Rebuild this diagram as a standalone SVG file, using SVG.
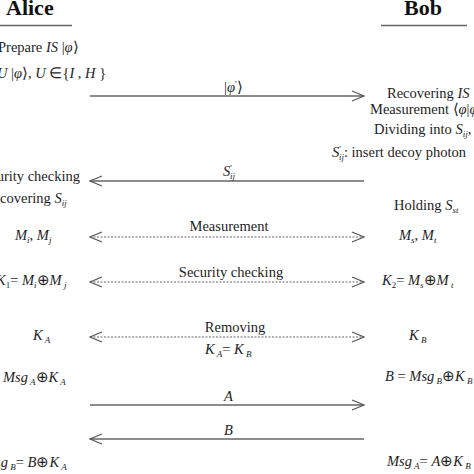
<svg xmlns="http://www.w3.org/2000/svg" width="474" height="474" viewBox="0 0 474 474">
<defs>
<style>
.t{font-family:"Liberation Serif","Times New Roman",serif;font-size:14.5px;fill:#1e1e1e}
.h{font-family:"Liberation Serif","Times New Roman",serif;font-size:22px;font-weight:bold;fill:#111}
.i{font-style:italic}
.s{font-size:9px}
.ln{stroke:#666;stroke-width:1.3;fill:none}
.dl{stroke:#666;stroke-width:1;stroke-dasharray:2,1.5;fill:none}
</style>
<marker id="ah" viewBox="0 0 14 12" refX="13" refY="6" markerWidth="14" markerHeight="12" markerUnits="userSpaceOnUse" orient="auto-start-reverse">
<path d="M1,1 L13,6 L1,11" fill="none" stroke="#555" stroke-width="1.2"/>
</marker>
</defs>
<rect width="474" height="474" fill="#fff"/>

<g id="alice">
<text class="h" x="6" y="15">Alice</text>
<line class="ln" x1="0" y1="25.5" x2="72" y2="25.5"/>
</g>
<g id="bob">
<text class="h" x="404" y="15">Bob</text>
<line class="ln" x1="381" y1="25.5" x2="467" y2="25.5"/>
</g>

<g id="alice-steps">
<text class="t" x="-2" y="52">Prepare <tspan class="i">IS</tspan> |<tspan class="i">φ</tspan>⟩</text>
<text class="t" x="-3" y="78"><tspan class="i">U</tspan> |<tspan class="i">φ</tspan>⟩, <tspan class="i">U</tspan> ∈{<tspan class="i">I</tspan> , <tspan class="i">H</tspan> }</text>
<text class="t" x="80" y="181" text-anchor="end">Security checking</text>
<text class="t" x="-16" y="203">Recovering <tspan class="i">S</tspan><tspan class="s i" dy="3">ij</tspan></text>
<text class="t" x="15" y="240"><tspan class="i">M</tspan><tspan class="s i" dy="3">i</tspan><tspan dy="-3">, </tspan><tspan class="i">M</tspan><tspan class="s i" dy="3">j</tspan></text>
<text class="t" x="-4" y="285"><tspan class="i">K</tspan><tspan class="s" dy="3">1</tspan><tspan dy="-3">= </tspan><tspan class="i">M</tspan><tspan class="s i" dy="3">i</tspan><tspan dy="-3">⊕</tspan><tspan class="i">M</tspan><tspan class="s i" dy="3"> j</tspan></text>
<text class="t" x="33" y="340"><tspan class="i">K</tspan><tspan class="s i" dy="3"> A</tspan></text>
<text class="t" x="3" y="382"><tspan class="i">Msg</tspan><tspan class="s i" dy="3"> A</tspan><tspan dy="-3">⊕</tspan><tspan class="i">K</tspan><tspan class="s i" dy="3"> A</tspan></text>
<text class="t" x="-17" y="467"><tspan class="i">Msg</tspan><tspan class="s i" dy="3"> B</tspan><tspan dy="-3">= </tspan><tspan class="i">B</tspan>⊕<tspan class="i">K</tspan><tspan class="s i" dy="3"> A</tspan></text>
</g>

<g id="bob-steps">
<text class="t" x="387" y="98">Recovering <tspan class="i">IS</tspan></text>
<text class="t" x="370" y="114">Measurement ⟨<tspan class="i">φ</tspan>|<tspan class="i">φ</tspan><tspan class="s" dy="-5">'</tspan><tspan dy="5">⟩</tspan></text>
<text class="t" x="374" y="134">Dividing into <tspan class="i">S</tspan><tspan class="s i" dy="3">ij</tspan><tspan dy="-3">,</tspan></text>
<text class="t" x="332" y="157"><tspan class="i">S</tspan><tspan class="s" dy="-5">'</tspan><tspan class="s i" dx="-2" dy="8">ij</tspan><tspan dy="-3">: insert decoy photon</tspan></text>
<text class="t" x="394" y="210">Holding <tspan class="i">S</tspan><tspan class="s i" dy="3">st</tspan></text>
<text class="t" x="399" y="240"><tspan class="i">M</tspan><tspan class="s i" dy="3">s</tspan><tspan dy="-3">, </tspan><tspan class="i">M</tspan><tspan class="s i" dy="3">t</tspan></text>
<text class="t" x="382" y="285"><tspan class="i">K</tspan><tspan class="s" dy="3">2</tspan><tspan dy="-3">= </tspan><tspan class="i">M</tspan><tspan class="s i" dy="3">s</tspan><tspan dy="-3">⊕</tspan><tspan class="i">M</tspan><tspan class="s i" dy="3"> t</tspan></text>
<text class="t" x="409" y="340"><tspan class="i">K</tspan><tspan class="s i" dy="3"> B</tspan></text>
<text class="t" x="385" y="381"><tspan class="i">B</tspan> = <tspan class="i">Msg</tspan><tspan class="s i" dy="3"> B</tspan><tspan dy="-3">⊕</tspan><tspan class="i">K</tspan><tspan class="s i" dy="3"> B</tspan></text>
<text class="t" x="387" y="466"><tspan class="i">Msg</tspan><tspan class="s i" dy="3"> A</tspan><tspan dy="-3">= </tspan><tspan class="i">A</tspan>⊕<tspan class="i">K</tspan><tspan class="s i" dy="3"> B</tspan></text>
</g>

<g id="connectors">
<line class="ln" x1="90" y1="96" x2="364" y2="96" marker-end="url(#ah)"/>
<text class="t" x="224" y="92">|<tspan class="i">φ</tspan><tspan class="s" dy="-5">'</tspan><tspan dy="5">⟩</tspan></text>
<line class="ln" x1="364" y1="181" x2="90" y2="181" marker-end="url(#ah)"/>
<text class="t" x="223" y="176"><tspan class="i">S</tspan><tspan class="s" dy="-5">'</tspan><tspan class="s i" dx="-2" dy="8">ij</tspan></text>
<line class="dl" x1="90" y1="237" x2="364" y2="237" marker-start="url(#ah)" marker-end="url(#ah)"/>
<text class="t" x="229" y="231" text-anchor="middle">Measurement</text>
<line class="dl" x1="90" y1="282" x2="364" y2="282" marker-start="url(#ah)" marker-end="url(#ah)"/>
<text class="t" x="231" y="277" text-anchor="middle">Security checking</text>
<line class="dl" x1="90" y1="337" x2="364" y2="337" marker-start="url(#ah)" marker-end="url(#ah)"/>
<text class="t" x="235" y="332" text-anchor="middle">Removing</text>
<text class="t" x="205" y="354"><tspan class="i">K</tspan><tspan class="s i" dy="3"> A</tspan><tspan dy="-3">= </tspan><tspan class="i">K</tspan><tspan class="s i" dy="3"> B</tspan></text>
<line class="ln" x1="90" y1="405" x2="364" y2="405" marker-end="url(#ah)"/>
<text class="t i" x="224" y="401">A</text>
<line class="ln" x1="364" y1="439" x2="90" y2="439" marker-end="url(#ah)"/>
<text class="t i" x="224" y="435">B</text>
</g>
</svg>
